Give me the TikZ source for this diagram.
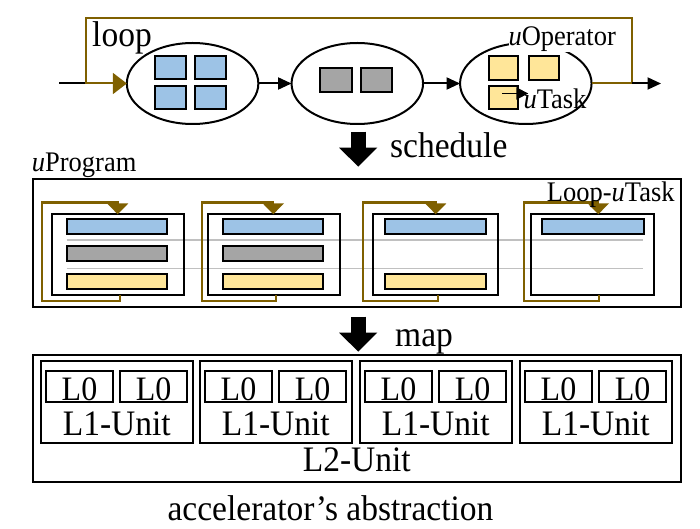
\documentclass[tikz,border=0pt]{standalone}
\usepackage{fontspec}
\setmainfont{Liberation Serif}
\usetikzlibrary{shapes.geometric,arrows.meta,fit}
\definecolor{cblue}{HTML}{9DC3E6}
\definecolor{cgray}{HTML}{A5A5A5}
\definecolor{cyel}{HTML}{FFE699}
\definecolor{cbrown}{HTML}{7F6000}
\definecolor{cline}{HTML}{C0C0C0}
\newcommand{\vstretch}[1]{\scalebox{1}[1.07]{#1}}
\begin{document}
\begin{tikzpicture}[x=1pt,y=-1pt,line join=miter,
  big/.style={font=\fontsize{33.5}{38}\selectfont,inner sep=0pt},
  lzero/.style={font=\fontsize{32}{36}\selectfont,inner sep=0pt},
  small/.style={font=\fontsize{26.5}{30}\selectfont,inner sep=0pt},
  oval/.style={ellipse,draw,line width=2pt,minimum width=131.5pt,minimum height=81pt,inner sep=0pt,outer sep=0pt},
  rbox/.style={draw,line width=2pt,inner sep=0pt,outer sep=0pt},
  blk/.style={line width=2pt,-{Triangle[length=13.5pt,width=12pt]}},
  bloop/.style={cbrown,line width=2pt},
  bighead/.style={line width=15pt,-{Triangle[length=19pt,width=37pt]}},
  grayline/.style={cline,line width=1.6pt}]
\useasboundingbox (0,0) rectangle (700,529);

% ---------- top: loop of operators ----------
\node[oval] (e1) at (192.6,83.5) {};
\node[oval] (e2) at (357.3,83.5) {};
\node[oval] (e3) at (525.8,83.5) {};

\node[rbox,fill=cblue,fit={(155,56) (185.7,79.3)}] (b1) {};
\node[rbox,fill=cblue,fit={(195,56) (225.7,79.3)}] (b2) {};
\node[rbox,fill=cblue,fit={(155,86) (185.7,109.3)}] (b3) {};
\node[rbox,fill=cblue,fit={(195,86) (225.7,109.3)}] (b4) {};

\node[rbox,fill=cgray,fit={(320,67.7) (351.7,91.7)}] (g1) {};
\node[rbox,fill=cgray,fit={(360.7,67.7) (391.7,91.7)}] (g2) {};

\node[rbox,fill=cyel,fit={(489,56) (518.3,80)}] (y1) {};
\node[rbox,fill=cyel,fit={(529,56) (559.3,80)}] (y2) {};
\node[rbox,fill=cyel,fit={(489,86) (518.3,109.3)}] (y3) {};

\coordinate (tin) at (59,83.5);
\coordinate (ll) at (85.7,83.5);
\coordinate (tl) at (85.7,18);
\coordinate (tr) at (631.7,18);
\coordinate (lr) at (631.7,83.5);
\coordinate (tout) at (661,83.5);

\draw[line width=2pt] (tin) -- (ll);
\draw[bloop,-{Triangle[length=14pt,width=21pt]}] (e3.east) -- (lr) -- (tr) -- (tl) -- (ll) -- (e1.west);
\draw[blk] (lr) -- (tout);
\draw[blk] (e1.east) -- (e2.west);
\draw[blk] (e2.east) -- (e3.west);

\coordinate (sa) at (502,93.5);
\coordinate (sb) at (528.3,93.5);
\draw[line width=1.8pt,-{Triangle[length=12pt,width=12pt]}] (sa) -- (sb);

\node[big,anchor=base west] (tloop) at (92,47) {\vstretch{loop}};
\node[small,anchor=base west,fill=white] (tuop) at (508.3,46) {\vstretch{\textit{u}Operator}};
\node[small,anchor=base west] (tutask) at (523.3,108.3) {\vstretch{\textit{u}Task}};

% ---------- schedule arrow ----------
\coordinate (sch1) at (358.2,131.7);
\coordinate (sch2) at (358.2,166.7);
\draw[bighead] (sch1) -- (sch2);
\node[big,anchor=base west] (tsched) at (390,158) {\vstretch{schedule}};

% ---------- middle: uProgram ----------
\node[small,anchor=base west] (tprog) at (31.7,171.7) {\vstretch{\textit{u}Program}};
\node[rbox,fit={(32.7,179.3) (680.7,306.7)}] (prog) {};

\draw[grayline] (66.7,240) -- (643.3,240);
\draw[grayline] (66.7,268.3) -- (643.3,268.3);

\foreach \i/\a/\b/\l/\ar/\br in {1/52.3/184/41.7/117.7/120, 2/208.3/340/201.7/273.3/276, 3/373.3/497.7/362.7/435.7/437.7, 4/530.7/654.3/524.3/598.3/599.3} {
  \node[rbox,fit={(\a,214.3) (\b,295)}] (task\i) {};
  \draw[bloop,-{Triangle[length=11pt,width=21pt]}] (\br,295) -- (\br,301) -- (\l,301) -- (\l,202.5) -- (\ar,202.5) -- (\ar,214.3);
}

\node[rbox,fill=cblue,fit={(66.7,219) (167.3,233.7)}] (m1b) {};
\node[rbox,fill=cgray,fit={(66.7,246) (167.3,260.7)}] (m1g) {};
\node[rbox,fill=cyel,fit={(66.7,274.3) (167.3,289.3)}] (m1y) {};
\node[rbox,fill=cblue,fit={(222.7,219) (323.3,233.7)}] (m2b) {};
\node[rbox,fill=cgray,fit={(222.7,246) (323.3,260.7)}] (m2g) {};
\node[rbox,fill=cyel,fit={(222.7,274.3) (323.3,289.3)}] (m2y) {};
\node[rbox,fill=cblue,fit={(385,219) (485.7,234)}] (m3b) {};
\node[rbox,fill=cyel,fit={(385,273.5) (485.7,288.7)}] (m3y) {};
\node[rbox,fill=cblue,fit={(541.7,219) (643.7,234)}] (m4b) {};

\node[small,anchor=base west] (tloopt) at (546.7,201.7) {\vstretch{Loop-\textit{u}Task}};

% ---------- map arrow ----------
\coordinate (map1) at (358.2,316.7);
\coordinate (map2) at (358.2,351.7);
\draw[bighead] (map1) -- (map2);
\node[big,anchor=base west] (tmap) at (395,346.7) {\vstretch{map}};

% ---------- bottom: accelerator ----------
\node[rbox,fit={(32.7,355) (681,481.7)}] (ltwo) {};
\foreach \i/\x in {1/41,2/200,3/360,4/520} {
  \node[rbox,fit={(\x,360.7) (\x+151.7,442.7)}] (lone\i) {};
  \node[rbox,fit={(\x+4.7,370.7) (\x+72.3,402.3)}] (lza\i) {};
  \node[rbox,fit={(\x+79,370.7) (\x+146.3,402.3)}] (lzb\i) {};
  \node[lzero,anchor=base] (tza\i) at (\x+38.5,400) {\vstretch{L0}};
  \node[lzero,anchor=base] (tzb\i) at (\x+112.7,400) {\vstretch{L0}};
  \node[big,anchor=base] (tone\i) at (\x+75.8,435) {\vstretch{L1-Unit}};
}
\node[big,anchor=base] (ttwo) at (356.8,471.7) {\vstretch{L2-Unit}};
\node[big,anchor=base] (tabs) at (330.5,520.5) {\vstretch{accelerator’s abstraction}};
\end{tikzpicture}
\end{document}
